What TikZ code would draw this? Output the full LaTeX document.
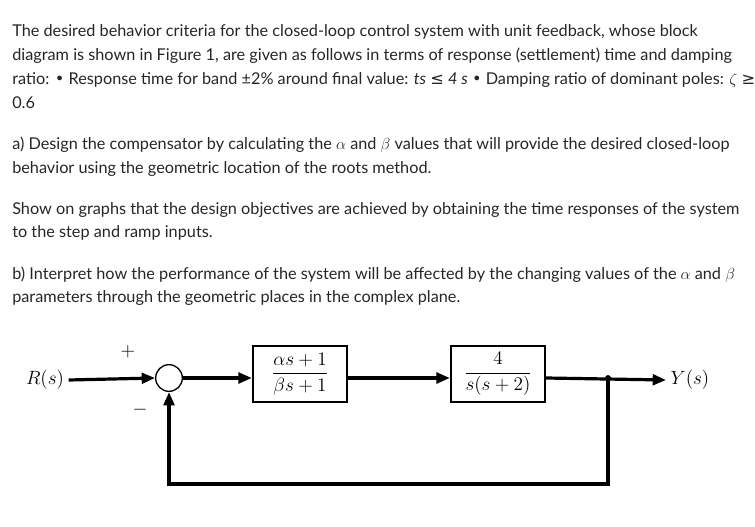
\documentclass[tikz,border=0pt]{standalone}
\usepackage{fontspec}
\setmainfont{Lato}
\newfontfamily\symf{DejaVu Sans}
\usetikzlibrary{arrows.meta}
\begin{document}
\begin{tikzpicture}[x=0.75pt,y=-0.75pt,
  txt/.style={anchor=west,inner sep=0,font=\fontsize{12.2}{13}\selectfont,text=black!85},
  blk/.style={draw,line width=1.8pt,minimum width=70.5pt,minimum height=42pt,font=\fontsize{15}{16}\selectfont\rmfamily},
  sig/.style={line width=2.4pt,-{Triangle[length=10pt,width=8pt]}},
  lab/.style={font=\fontsize{15}{16}\selectfont\rmfamily}]
\useasboundingbox (0,0) rectangle (755,527);
\node[txt] (l1) at (12,32) {The desired behavior criteria for the closed-loop control system with unit feedback, whose block};
\node[txt] (l2) at (12,56) {diagram is shown in Figure 1, are given as follows in terms of response (settlement) time and damping};
\node[txt] (l3) at (12,80) {ratio: {\symf•} Response time for band ±2\% around final value: \textit{ts} {\symf≤} \textit{4 s} {\symf•} Damping ratio of dominant poles: $\zeta$ {\symf≥}};
\node[txt] (l4) at (12,103) {0.6};
\node[txt] (l5) at (12,145) {a) Design the compensator by calculating the $\alpha$ and $\beta$ values that will provide the desired closed-loop};
\node[txt] (l6) at (12,169) {behavior using the geometric location of the roots method.};
\node[txt] (l7) at (12,210) {Show on graphs that the design objectives are achieved by obtaining the time responses of the system};
\node[txt] (l8) at (12,233) {to the step and ramp inputs.};
\node[txt] (l9) at (12,275) {b) Interpret how the performance of the system will be affected by the changing values of the $\alpha$ and $\beta$};
\node[txt] (l10) at (12,298) {parameters through the geometric places in the complex plane.};

\node[circle,draw,line width=1pt,minimum size=20pt,inner sep=0] (sum) at (169,378) {};
\node[blk] (b1) at (300,374) {$\displaystyle\frac{\alpha s+1}{\beta s+1}$};
\node[blk] (b2) at (498,374) {$\displaystyle\frac{4}{s(s+2)}$};
\node[lab] (r) at (45,380) {$R(s)$};
\node[lab] (y) at (690,380) {$Y(s)$};
\node[lab] (plus) at (128,352) {$+$};
\node[lab] (minus) at (140,410) {$-$};
\coordinate (br) at (608,378);
\coordinate (fb) at (608,484);
\coordinate (fc) at (169,484);
\draw[sig] (r.east) -- (sum.west);
\draw[sig] (sum.east) -- (b1.west |- sum.east);
\draw[sig] (b1.east |- sum.east) -- (b2.west |- sum.east);
\draw[sig] (b2.east |- sum.east) -- (y.west);
\fill (br) circle (2.2pt);
\draw[sig] (br) -- (fb) -- (fc) -- (sum.south);
\end{tikzpicture}
\end{document}
